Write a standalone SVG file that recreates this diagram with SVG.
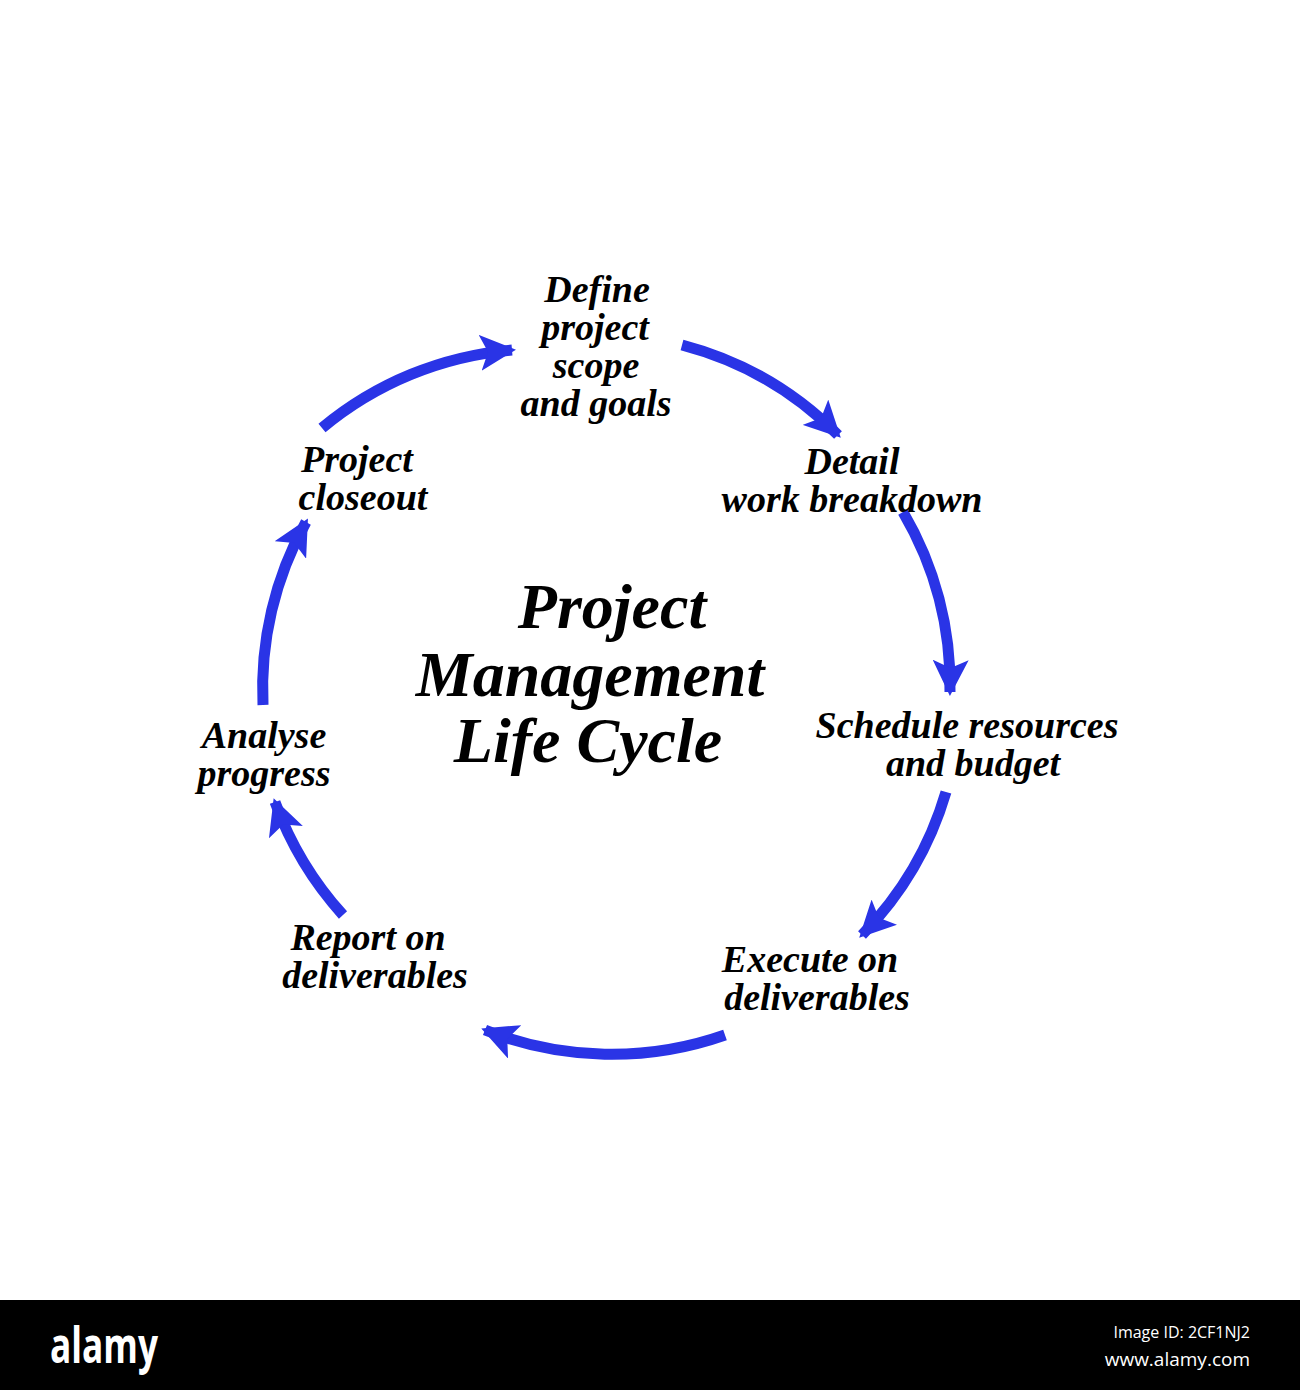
<svg xmlns="http://www.w3.org/2000/svg" width="1300" height="1390" viewBox="0 0 1300 1390">
<style>
.lbl{font-family:"Liberation Serif",serif;font-style:italic;font-weight:bold;font-size:38px;fill:#000;text-anchor:middle}
.ttl{font-family:"Liberation Serif",serif;font-style:italic;font-weight:bold;font-size:64px;fill:#000;text-anchor:middle}
.arc{fill:none;stroke:#2a34e6;stroke-width:11;marker-end:url(#ah)}
</style>
<defs>
<marker id="ah" markerUnits="userSpaceOnUse" markerWidth="40" markerHeight="36" refX="32" refY="18" orient="auto">
<path d="M0,0 L36,18 L0,36 L8,18 Z" fill="#2a34e6"/>
</marker>
</defs>
<rect width="1300" height="1390" fill="#fff"/>
<g id="connectors">
<path class="arc" d="M682,345 A342 342 0 0 1 838,435"/>
<path class="arc" d="M903,512 A342 342 0 0 1 950,692"/>
<path class="arc" d="M946,792 A342 342 0 0 1 862,935"/>
<path class="arc" d="M725,1035 A342 342 0 0 1 485,1030"/>
<path class="arc" d="M343,915 A342 342 0 0 1 275,802"/>
<path class="arc" d="M263,705 A342 342 0 0 1 306,522"/>
<path class="arc" d="M322,428 A342 342 0 0 1 512,350"/>
</g>
<g id="title"><text class="ttl" x="612" y="628">Project</text><text class="ttl" x="590" y="696">Management</text><text class="ttl" x="588" y="762">Life Cycle</text></g>
<g id="n1"><text class="lbl" x="597" y="302">Define</text><text class="lbl" x="595" y="340">project</text><text class="lbl" x="596" y="378">scope</text><text class="lbl" x="596" y="416">and goals</text></g>
<g id="n2"><text class="lbl" x="852" y="474">Detail</text><text class="lbl" x="852" y="512">work breakdown</text></g>
<g id="n3"><text class="lbl" x="967" y="738">Schedule resources</text><text class="lbl" x="973" y="776">and budget</text></g>
<g id="n4"><text class="lbl" x="810" y="972">Execute on</text><text class="lbl" x="817" y="1010">deliverables</text></g>
<g id="n5"><text class="lbl" x="368" y="950">Report on</text><text class="lbl" x="375" y="988">deliverables</text></g>
<g id="n6"><text class="lbl" x="264" y="748">Analyse</text><text class="lbl" x="264" y="786">progress</text></g>
<g id="n7"><text class="lbl" x="357" y="472">Project</text><text class="lbl" x="363" y="510">closeout</text></g>
<g id="footer">
<rect x="0" y="1300" width="1300" height="90" fill="#000"/>
<text x="50" y="1363" font-family="'Open Sans',sans-serif" font-weight="bold" font-size="50" fill="#fff" textLength="108" lengthAdjust="spacingAndGlyphs">alamy</text>
<text x="1250" y="1338" font-family="'Open Sans',sans-serif" font-size="16" fill="#fff" text-anchor="end">Image ID: 2CF1NJ2</text>
<text x="1250" y="1366" font-family="'Open Sans',sans-serif" font-size="19" fill="#fff" text-anchor="end">www.alamy.com</text>
</g>
</svg>
